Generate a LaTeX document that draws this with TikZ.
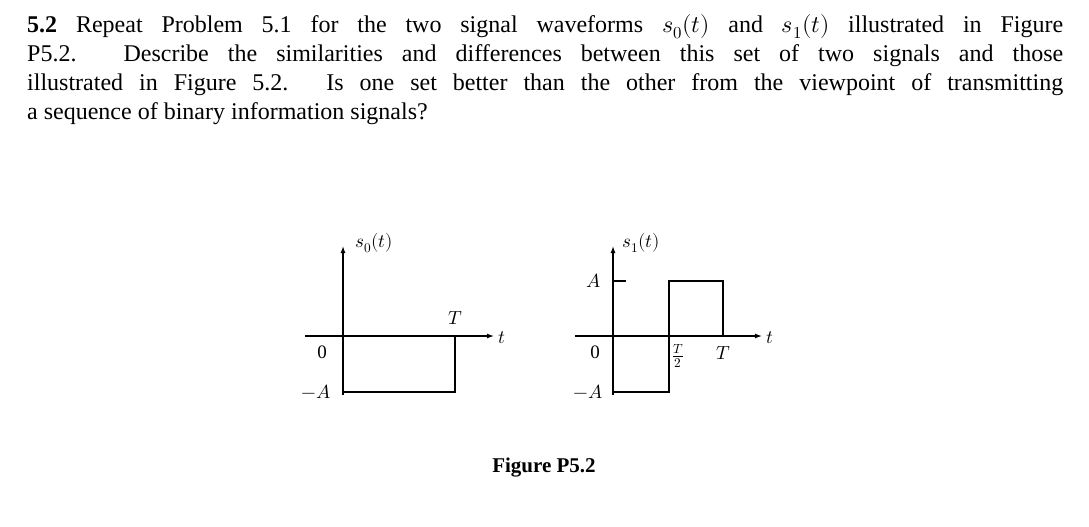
\documentclass[tikz,border=0pt]{standalone}
\usepackage{unicode-math}
\setmainfont{Liberation Serif}
\setmathfont{Latin Modern Math}
\usetikzlibrary{arrows.meta}
\begin{document}
\begin{tikzpicture}[x=1pt,y=-1pt,
  ax/.style={line width=1.3pt,-{Latex[length=7pt,width=5pt]}},
  sig/.style={line width=1.3pt},
  lab/.style={font=\fontsize{19}{21}\selectfont\itshape, inner sep=1pt}]
\useasboundingbox (0,0) rectangle (1089,527);
\node[anchor=north west, inner sep=0pt, text width=1036pt, align=justify,
  font=\fontsize{24}{29}\selectfont] (txt) at (27,14)
 {\textbf{5.2} Repeat Problem 5.1 for the two signal waveforms $s_0(t)$ and $s_1(t)$ illustrated in Figure\linebreak P5.2. Describe the similarities and differences between this set of two signals and those\linebreak illustrated in Figure 5.2. Is one set better than the other from the viewpoint of transmitting\linebreak a sequence of binary information signals?};
% plot 1
\draw[ax] (343,395) -- (343,246);
\draw[ax] (305,336) -- (494,336);
\draw[sig] (343,392) -- (455,392) -- (455,336);
\node[lab] (s0) at (374,243) {$s_0(t)$};
\node[lab] (t0) at (502,338) {$t$};
\node[lab] (T0) at (455,318) {$T$};
\node[lab,font=\fontsize{19}{21}\selectfont] (z0) at (322,352) {0};
\node[lab] (mA0) at (316,392) {$-A$};
% plot 2
\draw[ax] (613,395) -- (613,246);
\draw[ax] (575,336) -- (762,336);
\draw[sig] (613,392) -- (669,392) -- (669,281) -- (723,281) -- (723,336);
\draw[sig] (613,281) -- (626,281);
\node[lab] (s1) at (641,243) {$s_1(t)$};
\node[lab] (t1) at (770,338) {$t$};
\node[lab] (A1) at (594,281) {$A$};
\node[lab] (T1) at (723,353) {$T$};
\node[lab] (Th) at (678,356) {$\frac{T}{2}$};
\node[lab,font=\fontsize{19}{21}\selectfont] (z1) at (595,352) {0};
\node[lab] (mA1) at (588,392) {$-A$};
\node[font=\fontsize{21}{24}\selectfont\bfseries] (cap) at (544,468) {Figure P5.2};
\end{tikzpicture}
\end{document}
